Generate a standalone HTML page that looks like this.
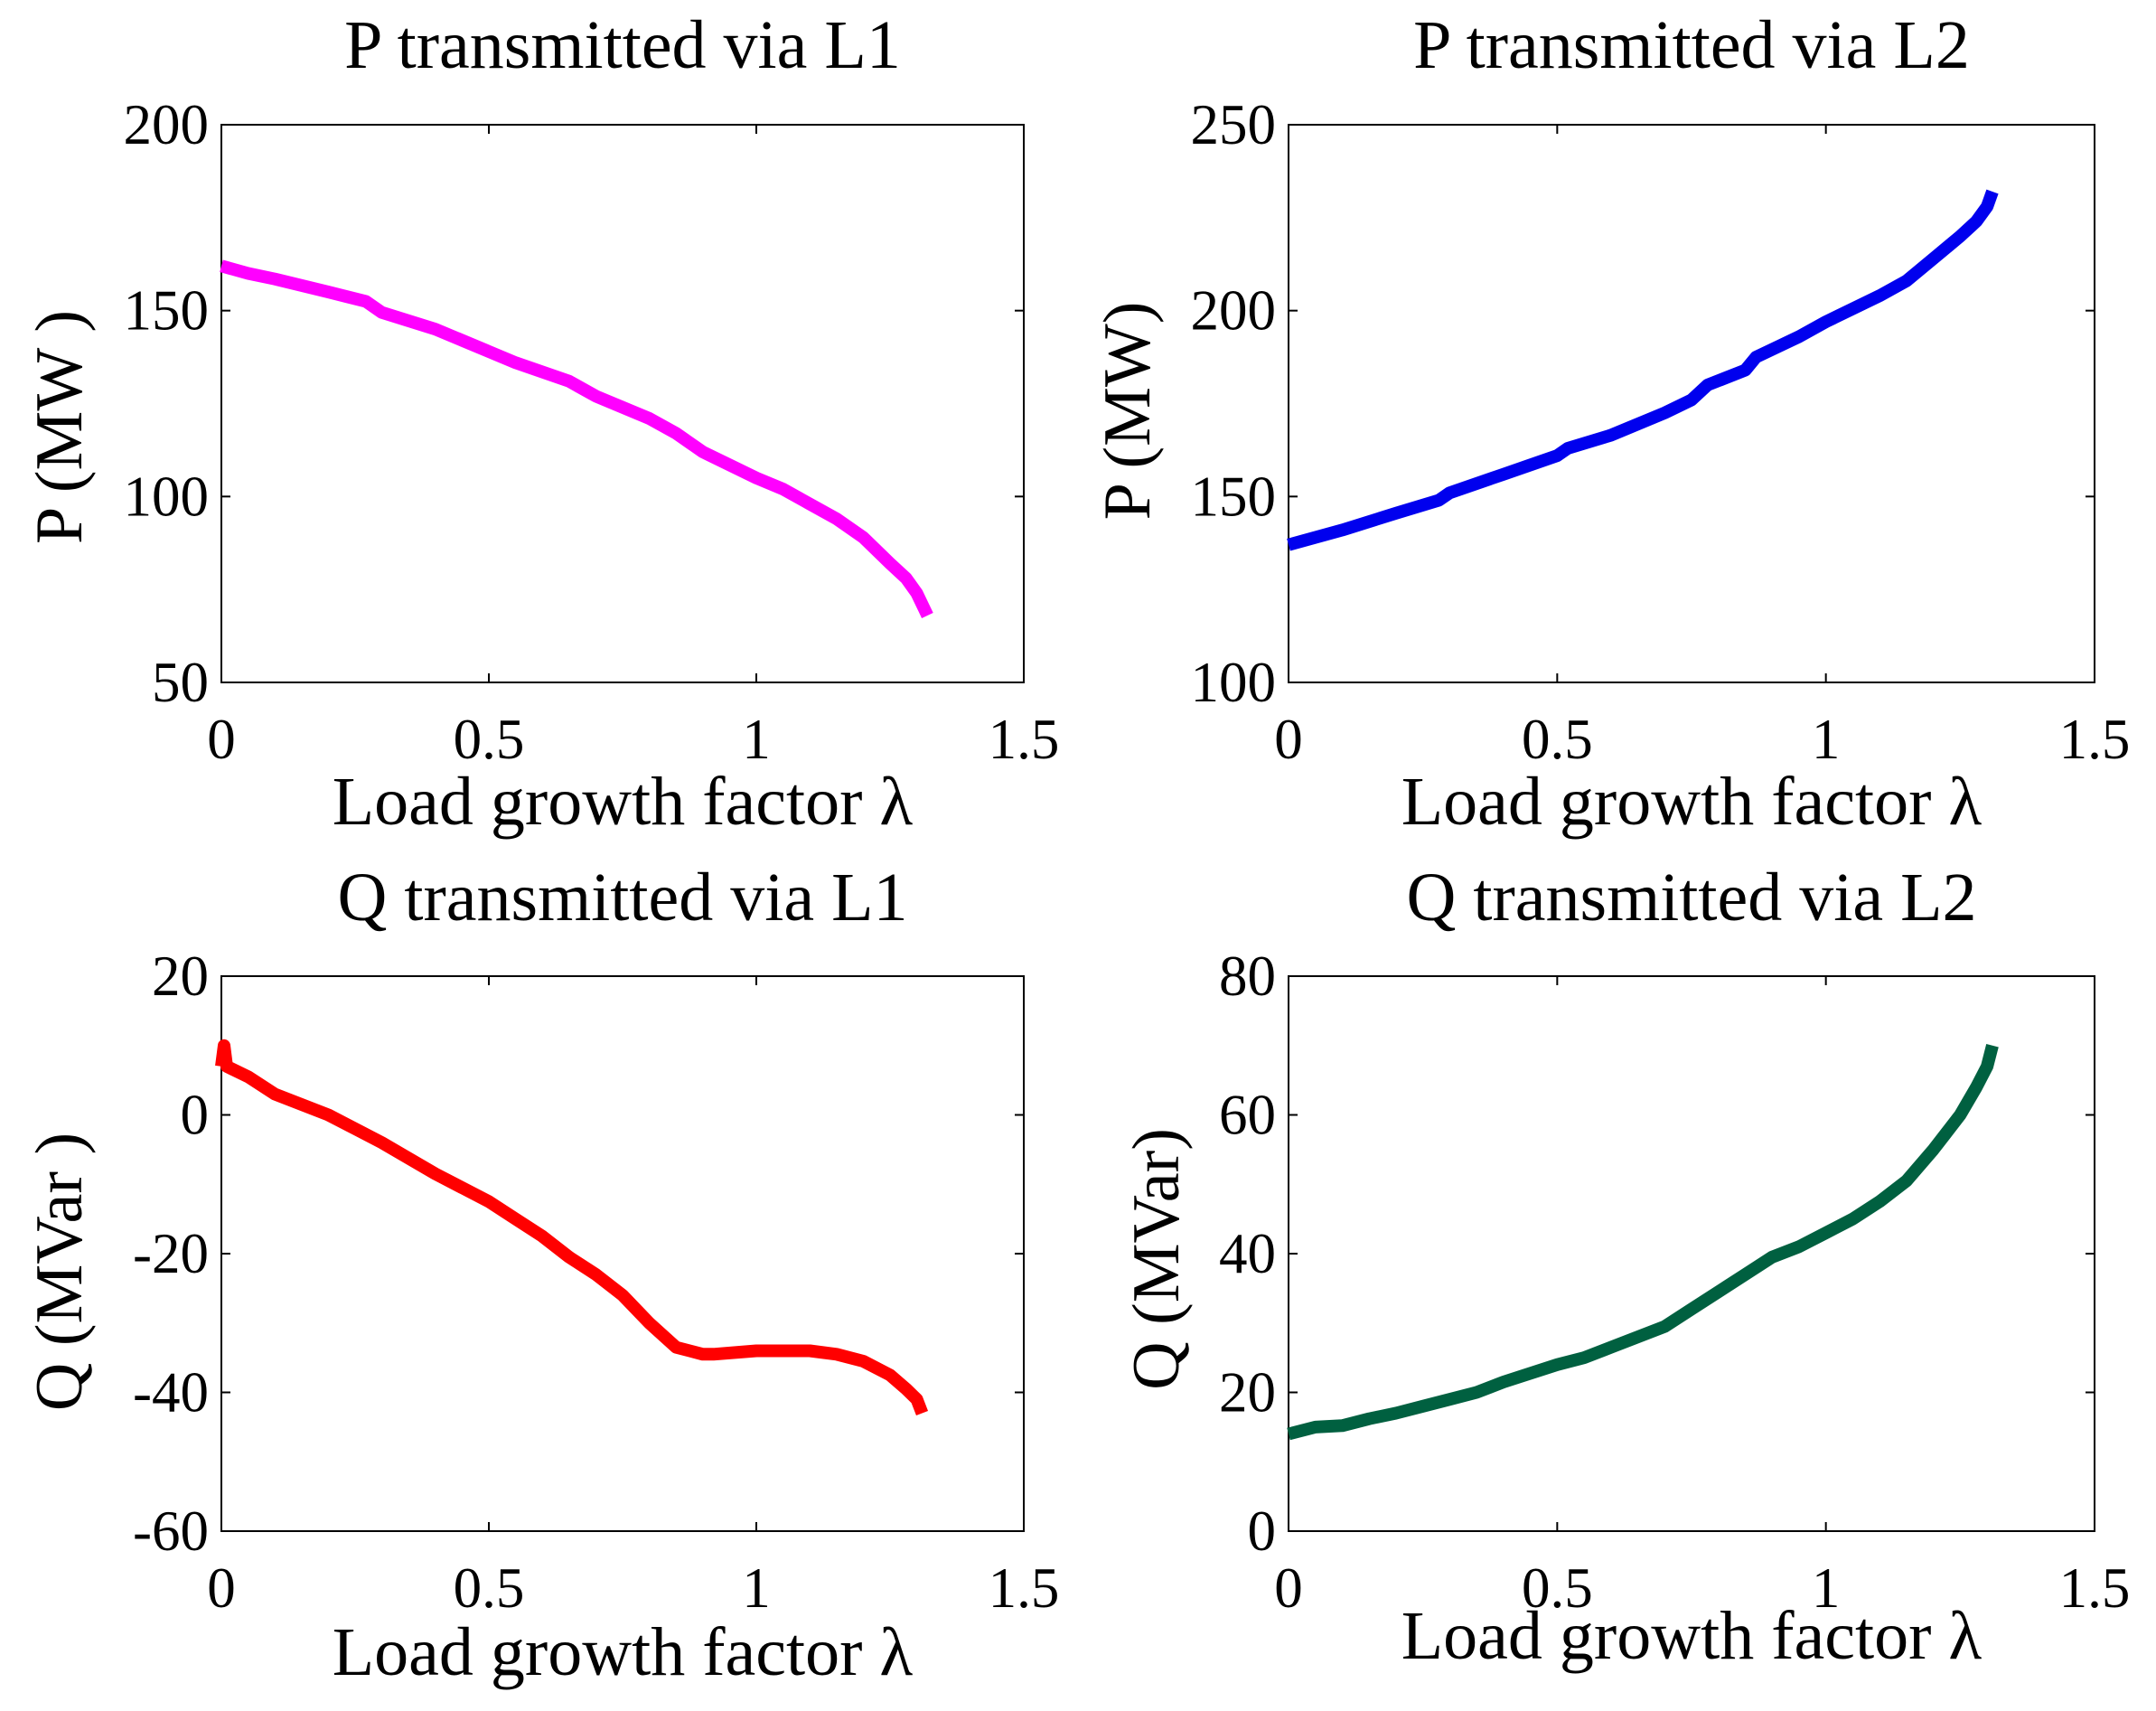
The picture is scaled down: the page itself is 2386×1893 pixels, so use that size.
<!DOCTYPE html>
<html><head><meta charset="utf-8"><style>
body{margin:0;background:#fff}
svg text{font-family:"Liberation Serif",serif;fill:#000}
</style></head><body>
<svg id="s" width="2386" height="1888" xmlns="http://www.w3.org/2000/svg"></svg>
<script>
const xTicks=[0,0.5,1,1.5];
const xTickLabels=["0","0.5","1","1.5"];
const p1X=[0,0.05,0.1,0.2,0.27,0.3,0.4,0.5,0.55,0.65,0.7,0.8,0.85,0.9,1.0,1.05,1.1,1.15,1.2,1.25,1.28,1.3,1.31,1.32];
const p1Y=[162,160,158.5,155,152.5,149.5,145,139,136,131,127,121,117,112,105,102,98,94,89,82,78,74,71,68];
const p2X=[0,0.1,0.2,0.28,0.3,0.4,0.5,0.52,0.6,0.7,0.75,0.78,0.85,0.87,0.95,1.0,1.1,1.15,1.2,1.25,1.28,1.3,1.31];
const p2Y=[137,141,145.5,149,151,156,161,163,166.5,172.5,176,180,184,187.5,193,197,204,208,214,220,224,228,232];
const q1X=[0,0.005,0.01,0.05,0.1,0.2,0.25,0.3,0.4,0.5,0.55,0.6,0.65,0.7,0.75,0.8,0.85,0.9,0.92,1.0,1.1,1.15,1.2,1.25,1.28,1.3,1.31];
const q1Y=[7,10,7,5.5,3,0,-2,-4,-8.5,-12.5,-15,-17.5,-20.5,-23,-26,-30,-33.5,-34.5,-34.5,-34,-34,-34.5,-35.5,-37.5,-39.5,-41,-43];
const q2X=[0,0.05,0.1,0.15,0.2,0.25,0.3,0.35,0.4,0.5,0.55,0.6,0.7,0.75,0.8,0.85,0.9,0.95,1.0,1.05,1.1,1.15,1.2,1.25,1.28,1.3,1.31];
const q2Y=[14,15,15.2,16.2,17,18,19,20,21.5,24,25,26.5,29.5,32,34.5,37,39.5,41,43,45,47.5,50.5,55,60,64,67,70];
const p1Ticks=[50,100,150,200], p2Ticks=[100,150,200,250], q1Ticks=[-60,-40,-20,0,20], q2Ticks=[0,20,40,60,80];
const NS="http://www.w3.org/2000/svg", svg=document.getElementById('s');
function el(t,a,txt){const e=document.createElementNS(NS,t);for(const k in a)e.setAttribute(k,a[k]);if(txt!==undefined)e.textContent=txt;svg.appendChild(e);return e;}
function panel(o){
 const {L,R,T,B,ymin,ymax,yt,xs,ys,color,title,ylab,name,xlabY,titleY,ylabX,ylabDy}=o;
 const sx=v=>L+(v-0)/1.5*(R-L), sy=v=>B-(v-ymin)/(ymax-ymin)*(B-T);
 let r=el('rect',{x:L,y:T,width:R-L,height:B-T,fill:'none',stroke:'#000','stroke-width':2});
 
 xTicks.forEach((v,i)=>{const x=sx(v);
  el('line',{x1:x,x2:x,y1:B,y2:B-10,stroke:'#000','stroke-width':2});
  el('line',{x1:x,x2:x,y1:T,y2:T+10,stroke:'#000','stroke-width':2});
  let t=el('text',{x:x,y:B+84,'font-size':63,'text-anchor':'middle'},xTickLabels[i]);
  });
 yt.forEach(v=>{const y=sy(v);
  el('line',{x1:L,x2:L+10,y1:y,y2:y,stroke:'#000','stroke-width':2});
  el('line',{x1:R,x2:R-10,y1:y,y2:y,stroke:'#000','stroke-width':2});
  let t=el('text',{x:L-14,y:y+21,'font-size':63,'text-anchor':'end'},String(v));
  });
 const d=xs.map((x,i)=>(i?'L':'M')+sx(x).toFixed(1)+','+sy(ys[i]).toFixed(1)).join(' ');
 let p=el('path',{d:d,fill:'none',stroke:color,'stroke-width':14,'stroke-linejoin':'round'});
 
 let t1=el('text',{x:(L+R)/2,y:titleY,'font-size':76,'text-anchor':'middle'},title);
 
 let t2=el('text',{x:(L+R)/2,y:xlabY,'font-size':76,'text-anchor':'middle'},'Load growth factor λ');
 
 let cy=(T+B)/2+ylabDy;
 let t3=el('text',{x:ylabX,y:cy,'font-size':74,'text-anchor':'middle',transform:`rotate(-90 ${ylabX} ${cy})`},ylab);
 
}
panel({name:'p-l1',L:245,R:1133,T:138,B:755,ymin:50,ymax:200,yt:p1Ticks,xs:p1X,ys:p1Y,color:'#ff00ff',title:'P transmitted via L1',ylab:'P (MW )',xlabY:912,titleY:75,ylabX:90,ylabDy:26});
panel({name:'p-l2',L:1426,R:2318,T:138,B:755,ymin:100,ymax:250,yt:p2Ticks,xs:p2X,ys:p2Y,color:'#0000ee',title:'P transmitted via L2',ylab:'P (MW)',xlabY:912,titleY:75,ylabX:1272,ylabDy:8});
panel({name:'q-l1',L:245,R:1133,T:1080,B:1694,ymin:-60,ymax:20,yt:q1Ticks,xs:q1X,ys:q1Y,color:'#ff0000',title:'Q transmitted via L1',ylab:'Q (MVar )',xlabY:1853,titleY:1018,ylabX:90,ylabDy:20});
panel({name:'q-l2',L:1426,R:2318,T:1080,B:1694,ymin:0,ymax:80,yt:q2Ticks,xs:q2X,ys:q2Y,color:'#006040',title:'Q transmitted via L2',ylab:'Q (MVar)',xlabY:1835,titleY:1018,ylabX:1304,ylabDy:6});
</script>
</body></html>
